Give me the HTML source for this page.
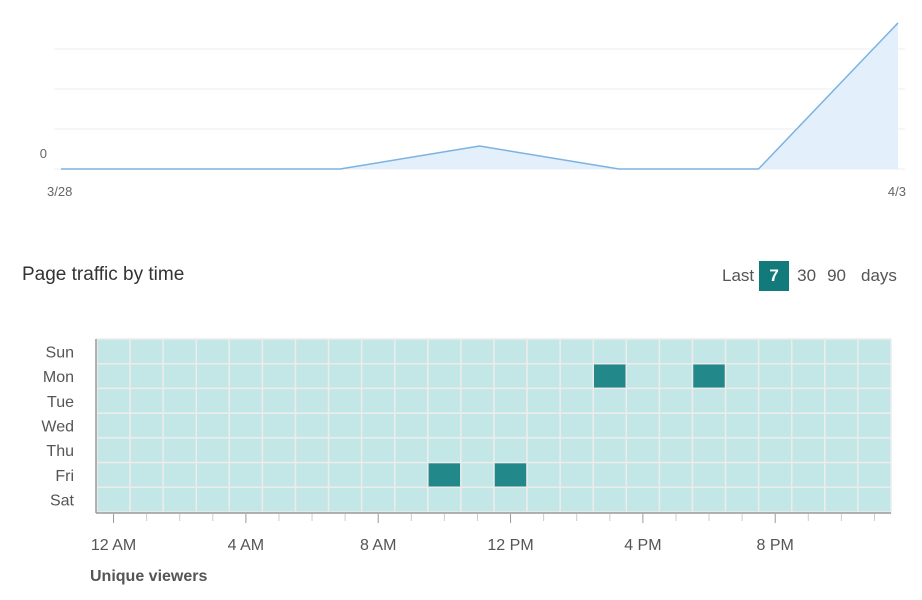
<!DOCTYPE html>
<html><head><meta charset="utf-8"><style>
body{margin:0;width:922px;height:600px;background:#fff;font-family:"Liberation Sans",sans-serif;overflow:hidden;position:relative}
.t{position:absolute;color:#555}
</style></head><body>
<svg id="line" width="922" height="210" style="position:absolute;left:0;top:0"></svg>
<div class="t" style="left:22px;top:264px;font-size:19px;color:#333">Page traffic by time</div>
<div style="position:absolute;left:722px;top:261px;height:30px;line-height:30px;font-size:17px;color:#555">
<span>Last</span><span style="display:inline-block;margin-left:5px;width:30px;text-align:center;background:#127a7a;color:#fff;font-weight:bold">7</span><span style="margin-left:8px">30</span><span style="margin-left:11px">90</span><span style="margin-left:15px">days</span></div>
<svg id="heat" width="922" height="600" style="position:absolute;left:0;top:0"></svg>
<div class="t" style="left:90px;top:568px;font-size:16px;font-weight:bold;color:#555">Unique viewers</div>
<script>
const dates=["3/28","3/29","3/30","3/31","4/1","4/2","4/3"];
const views=[0,0,0,1,0,0,6.35];
const days=["Sun","Mon","Tue","Wed","Thu","Fri","Sat"];
const hourLabels=["12 AM","4 AM","8 AM","12 PM","4 PM","8 PM"];
const hotDay=[1,1,5,5];
const hotHour=[15,18,10,12];
const hotValue=[1,1,1,1];
const NS="http://www.w3.org/2000/svg";
function mk(svg,tag,a){const e=document.createElementNS(NS,tag);for(const k in a)e.setAttribute(k,a[k]);svg.appendChild(e);return e;}
// line chart
const L=document.getElementById('line');
const lx=i=>61+i*(898-61)/(dates.length-1);
const ly=v=>169-v*23;
[49,89,129,169].forEach((y,i)=>{const g=mk(L,'line',{x1:54,x2:905,y1:y,y2:y,stroke:'#eeeeee','stroke-width':1});
});
let t=mk(L,'text',{x:47,y:158,'text-anchor':'end','font-size':13,fill:'#666'});t.textContent='0';

let pts=views.map((v,i)=>lx(i)+','+ly(v)).join(' ');
let area=mk(L,'polygon',{points:lx(0)+','+ly(0)+' '+pts+' '+lx(views.length-1)+','+ly(0),fill:'#e3effa'});

let pl=mk(L,'polyline',{points:pts,fill:'none',stroke:'#7ab3e3','stroke-width':1.5});

[[0,'start',47],[dates.length-1,'end',906]].forEach(([i,a,x])=>{const e=mk(L,'text',{x:x,y:196,'text-anchor':a,'font-size':13,fill:'#666'});e.textContent=dates[i];
});
// heatmap
const H=document.getElementById('heat');
const X0=97,X1=891,Y0=339,Y1=512;
const cw=(X1-X0)/24,ch=(Y1-Y0)/7;
const hot={};hotDay.forEach((d,i)=>hot[d+'_'+hotHour[i]]=hotValue[i]);
for(let d=0;d<7;d++)for(let h=0;h<24;h++){
 const v=hot[d+'_'+h]||0;
 const r=mk(H,'rect',{x:X0+h*cw,y:Y0+d*ch,width:cw,height:ch,fill:v?'#22888a':'#c3e6e6',stroke:'#ececec','stroke-width':1.5});
 
}
days.forEach((d,i)=>{const e=mk(H,'text',{x:74,y:Y0+i*ch+ch/2+6,'text-anchor':'end','font-size':16,fill:'#555'});e.textContent=d;
});
let ax=mk(H,'line',{x1:96,x2:891,y1:513,y2:513,stroke:'#999','stroke-width':1.5});

let yax=mk(H,'line',{x1:96,x2:96,y1:339,y2:513,stroke:'#999','stroke-width':1.5});

for(let h=0;h<24;h++){const x=X0+h*cw+cw/2,maj=h%4==0;
 const tk=mk(H,'line',{x1:x,x2:x,y1:514,y2:maj?523:521,stroke:maj?'#999':'#ccc','stroke-width':1});
 
 if(maj){const e=mk(H,'text',{x:x,y:550,'text-anchor':'middle','font-size':16,fill:'#555'});e.textContent=hourLabels[h/4];
 }}
</script>
</body></html>
